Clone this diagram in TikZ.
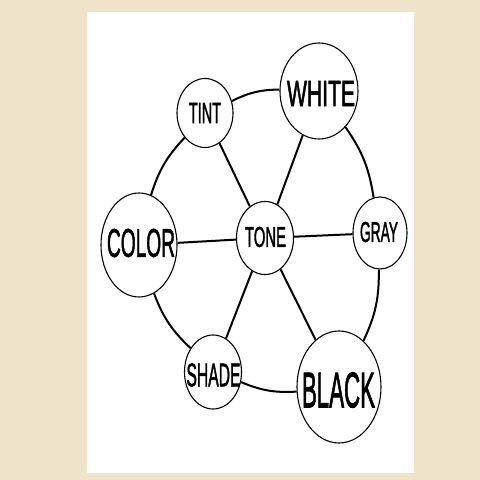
\documentclass[tikz,border=0pt]{standalone}
\usepackage{fontspec}
\setmainfont{Liberation Sans}
\newfontfamily\lblfont[FakeBold=2]{Liberation Sans}
\usetikzlibrary{shapes.geometric}
\newcommand\lbl[3]{\resizebox{#1pt}{#2pt}{\lblfont #3}}
\definecolor{paper}{HTML}{EFE4CA}
\tikzset{
  bub/.style={ellipse, draw=black, line width=1.1pt, fill=white, inner sep=0pt},
  txt/.style={inner sep=0pt, text=black},
  link/.style={line width=2pt, black},
  ring/.style={link, bend left=13}
}
\begin{document}
\begin{tikzpicture}[x=1pt,y=1pt]
\useasboundingbox (0,0) rectangle (480,480);
\fill[paper] (0,0) rectangle (480,480);
\fill[white] (87,7) rectangle (414,468);
% bubbles
\node[bub, minimum width=56pt, minimum height=69pt] (tint) at (205,367) {};
\node[bub, minimum width=78pt, minimum height=96pt] (white) at (319,389) {};
\node[bub, minimum width=76pt, minimum height=104pt] (color) at (139,235) {};
\node[bub, minimum width=57pt, minimum height=73pt] (tone) at (265,242) {};
\node[bub, minimum width=54pt, minimum height=72pt] (gray) at (380,247) {};
\node[bub, minimum width=57pt, minimum height=74pt] (shade) at (213,108) {};
\node[bub, minimum width=84pt, minimum height=112pt] (black) at (339,93) {};
% connectors
\draw[link] (tone) -- (tint);
\draw[link] (tone) -- (white);
\draw[link] (tone) -- (gray);
\draw[link] (tone) -- (black);
\draw[link] (tone) -- (shade);
\draw[link] (tone) -- (color);
\draw[ring] (tint) to (white);
\draw[ring] (white) to (gray);
\draw[ring] (gray) to (black);
\draw[ring] (black) to (shade);
\draw[ring] (shade) to (color);
\draw[ring] (color) to (tint);
% labels
\node[txt] (ttint) at (205,367) {\lbl{32}{20}{TINT}};
\node[txt] (twhite) at (321,386.5) {\lbl{68}{25}{WHITE}};
\node[txt] (tcolor) at (141,237) {\lbl{68}{28}{COLOR}};
\node[txt] (ttone) at (265.5,243) {\lbl{41}{20}{TONE}};
\node[txt] (tgray) at (379,248) {\lbl{38}{20}{GRAY}};
\node[txt] (tshade) at (213.5,105) {\lbl{54}{23}{SHADE}};
\node[txt] (tblack) at (338.5,90) {\lbl{73}{35}{BLACK}};
\end{tikzpicture}
\end{document}
